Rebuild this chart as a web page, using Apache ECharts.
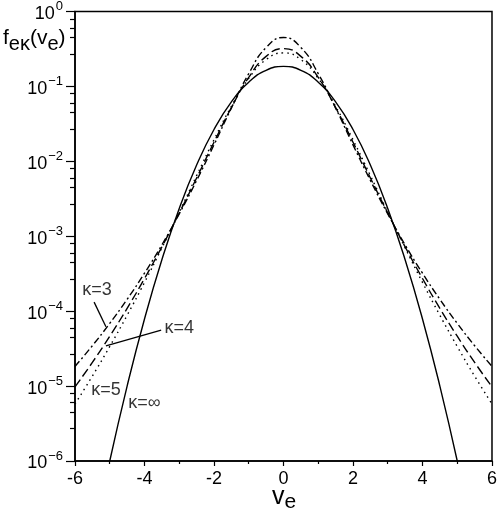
<!DOCTYPE html>
<html>
<head>
<meta charset="utf-8">
<script src="https://cdn.jsdelivr.net/npm/echarts@6/dist/echarts.min.js"></script>
<style>
html,body{margin:0;padding:0;background:#fff;}
#c{width:500px;height:516px;}
</style>
</head>
<body>
<div id="c"></div>
<script>
// velocity grid (v_e) and distribution values
const vGrid = [-6,-5.5,-5,-4.5,-4,-3.5,-3,-2.5,-2,-1.5,-1,-0.5,0,0.5,1,1.5,2,2.5,3,3.5,4,4.5,5,5.5,6];
const fKappa3 = [1.83e-5,3.46e-5,6.87e-5,1.44e-4,3.21e-4,7.67e-4,1.99e-3,5.56e-3,1.66e-2,5.14e-2,0.148,0.331,0.450,0.331,0.148,5.14e-2,1.66e-2,5.56e-3,1.99e-3,7.67e-4,3.21e-4,1.44e-4,6.87e-5,3.46e-5,1.83e-5];
const fKappa4 = [9.77e-6,2.07e-5,4.63e-5,1.09e-4,2.73e-4,7.23e-4,2.04e-3,6.00e-3,1.80e-2,5.21e-2,0.132,0.252,0.320,0.252,0.132,5.21e-2,1.80e-2,6.00e-3,2.04e-3,7.23e-4,2.73e-4,1.09e-4,4.63e-5,2.07e-5,9.77e-6];
const fKappa5 = [5.77e-6,1.36e-5,3.38e-5,8.81e-5,2.42e-4,7.00e-4,2.10e-3,6.45e-3,1.94e-2,5.42e-2,0.128,0.228,0.280,0.228,0.128,5.42e-2,1.94e-2,6.45e-3,2.10e-3,7.00e-4,2.42e-4,8.81e-5,3.38e-5,1.36e-5,5.77e-6];
const vMaxwell = [-5,-4.5,-4,-3.5,-3,-2.5,-2,-1.5,-1,-0.5,0,0.5,1,1.5,2,2.5,3,3.5,4,4.5,5];
const fMaxwell = [1.0e-6,1.0e-5,7.87e-5,4.85e-4,2.35e-3,8.91e-3,2.66e-2,6.21e-2,0.114,0.164,0.185,0.164,0.114,6.21e-2,2.66e-2,8.91e-3,2.35e-3,4.85e-4,7.87e-5,1.0e-5,1.0e-6];
const xTicks = [-6,-4,-2,0,2,4,6];
const yDecades = [1e-6,1e-5,1e-4,1e-3,1e-2,1e-1,1];
const yMinorMantissa = [8,6,4.5,2.7];
// annotations: label text and anchor in data coordinates
const labelTexts = ['κ=3','κ=4','κ=5','κ=∞'];
const labelV = [-5.37,-3.0,-5.11,-4.0];
const labelF = [1.9e-4,5.9e-5,8.9e-6,5.9e-6];
const arrowFrom = [[-5.45,1.32e-4],[-3.52,5.58e-5]];
const arrowTo = [[-5.11,6.2e-5],[-5.11,3.45e-5]];

const FONT = 'Liberation Sans';
const zip = (xs, ys) => xs.map((x, i) => [x, ys[i]]);
const minorVals = [];
yDecades.slice(0, -1).forEach(d => yMinorMantissa.forEach(m => minorVals.push(d * m)));

const chart = echarts.init(document.getElementById('c'), null, {renderer: 'canvas'});
const baseLine = {color: '#000', width: 1.4};
const option = {
  animation: false,
  backgroundColor: '#fff',
  grid: {left: 75, right: 5, top: 11, bottom: 55, show: true, borderColor: '#000', borderWidth: 1.5, backgroundColor: 'transparent'},
  xAxis: {
    type: 'value', min: -6, max: 6, interval: 2,
    axisLine: {onZero: false, lineStyle: {color: '#000', width: 1.5}},
    axisTick: {length: 5, lineStyle: {color: '#000', width: 1.2}},
    minorTick: {show: true, splitNumber: 2, length: 3, lineStyle: {color: '#000', width: 1.2}},
    splitLine: {show: false},
    axisLabel: {color: '#000', fontFamily: FONT, fontSize: 18, margin: 9,
      customValues: xTicks}
  },
  yAxis: [{
    type: 'log', logBase: 10, min: 1e-6, max: 1,
    axisLine: {onZero: false, lineStyle: {color: '#000', width: 1.5}},
    axisTick: {length: 9, lineStyle: {color: '#000', width: 1.2}, customValues: yDecades},
    splitLine: {show: false},
    minorTick: {show: false},
    axisLabel: {
      customValues: yDecades,
      margin: 12, color: '#000', fontFamily: FONT,
      formatter: function (v) {
        const e = Math.round(Math.log10(v));
        return '{a|10}{b|' + (e === 0 ? '0' : '\u2212' + (-e)) + '}';
      },
      rich: {
        a: {fontSize: 18, fontFamily: FONT, color: '#000', verticalAlign: 'top', padding: [5, 0, 0, 0]},
        b: {fontSize: 13, fontFamily: FONT, color: '#000', verticalAlign: 'top', padding: [0, 0, 0, 1]}
      }
    }
  }, {
    type: 'log', logBase: 10, min: 1e-6, max: 1, position: 'left',
    axisLine: {show: false, onZero: false},
    axisTick: {length: 5, lineStyle: {color: '#000', width: 1.2}, customValues: minorVals},
    axisLabel: {show: false},
    splitLine: {show: false}
  }],
  series: [
    {name: 'κ=∞', type: 'line', data: zip(vMaxwell, fMaxwell), smooth: true, showSymbol: false,
      lineStyle: Object.assign({}, baseLine, {type: 'solid'})},
    {name: 'κ=3', type: 'line', data: zip(vGrid, fKappa3), smooth: true, showSymbol: false,
      lineStyle: Object.assign({}, baseLine, {type: [7, 3, 2, 3]})},
    {name: 'κ=4', type: 'line', data: zip(vGrid, fKappa4), smooth: true, showSymbol: false,
      lineStyle: Object.assign({}, baseLine, {type: [9, 4]})},
    {name: 'κ=5', type: 'line', data: zip(vGrid, fKappa5), smooth: true, showSymbol: false,
      lineStyle: Object.assign({}, baseLine, {type: [1.5, 4]})},
    {name: 'labels', type: 'scatter', silent: true, symbolSize: 1,
      itemStyle: {color: 'rgba(0,0,0,0)'},
      data: labelTexts.map((t, i) => ({value: [labelV[i], labelF[i]], name: t})),
      label: {show: true, position: 'inside', formatter: p => p.name, color: '#000', fontFamily: FONT, fontSize: 18},
      markLine: {
        silent: true, symbol: ['none', 'arrow'], symbolSize: [0, 12],
        label: {show: false},
        lineStyle: {color: '#000', width: 1.3, type: 'solid'},
        data: arrowFrom.map((f, i) => [{coord: f}, {coord: arrowTo[i]}])
      }
    }
  ],
  graphic: [
    {type: 'text', left: 3, top: 28, style: {
      text: '{m|f}{s|eκ}{m|(v}{s|e}{m|)}',
      rich: {
        m: {fontSize: 21, fontFamily: FONT, fill: '#000', verticalAlign: 'top'},
        s: {fontSize: 20, fontFamily: FONT, fill: '#000', verticalAlign: 'top', padding: [6, 0, 0, 0]}
      }}},
    {type: 'text', left: 272, top: 485, style: {
      text: '{m|v}{s|e}',
      rich: {
        m: {fontSize: 25, fontFamily: FONT, fill: '#000', verticalAlign: 'top'},
        s: {fontSize: 21, fontFamily: FONT, fill: '#000', verticalAlign: 'top', padding: [7, 0, 0, 0]}
      }}}
  ]
};
chart.setOption(option);
</script>
</body>
</html>
